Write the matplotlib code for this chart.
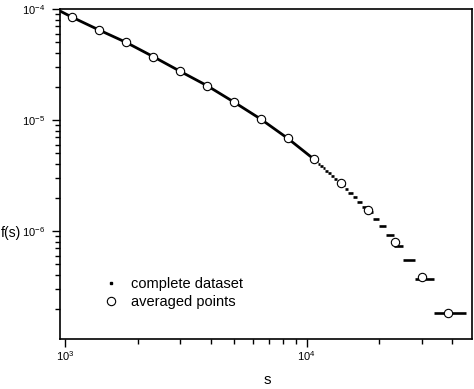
import matplotlib
matplotlib.use("Agg")
import matplotlib.pyplot as plt
from matplotlib.lines import Line2D
from matplotlib.ticker import LogLocator, NullFormatter

plt.rcParams['font.family'] = ['Liberation Sans', 'DejaVu Sans']
plt.rcParams['mathtext.fontset'] = 'custom'
plt.rcParams['mathtext.rm'] = 'Liberation Sans'
plt.rcParams['mathtext.it'] = 'Liberation Sans:italic'
plt.rcParams['mathtext.bf'] = 'Liberation Sans:bold'
plt.rcParams['axes.unicode_minus'] = False

# ---- data ----
# dense part of the complete dataset (appears as a continuous line)
dense_s = [953, 1072, 1383, 1788, 2319, 2991, 3868, 5003, 6451, 8343, 10720, 10860]
dense_f = [9.6e-5, 8.42e-5, 6.47e-5, 5.01e-5, 3.72e-5, 2.75e-5, 2.04e-5, 1.45e-5,
           1.02e-5, 6.84e-6, 4.43e-6, 4.32e-6]

# sparse tail of the complete dataset: plateaus (level, s from, s to)
plateau_f = [1.84e-7, 3.68e-7, 5.52e-7, 7.36e-7, 9.20e-7, 1.104e-6, 1.288e-6, 1.472e-6,
             1.656e-6, 1.84e-6, 2.024e-6, 2.208e-6, 2.392e-6, 2.576e-6, 2.76e-6, 2.944e-6,
             3.128e-6, 3.312e-6, 3.496e-6, 3.68e-6, 3.864e-6, 4.048e-6, 4.232e-6]
plateau_s0 = [33490, 28080, 25010, 22920, 21200, 19860, 18790, 17880, 16960, 16170, 15480,
              14880, 14350, 13870, 13410, 12990, 12610, 12260, 11940, 11630, 11360, 11100, 10860]
plateau_s1 = [45400, 33490, 28080, 25010, 22920, 21200, 19860, 18790, 17880, 16960, 16170,
              15480, 14880, 14350, 13870, 13410, 12990, 12610, 12260, 11940, 11630, 11360, 11100]

# averaged points
avg_s = [1072, 1383, 1788, 2319, 2991, 3868, 5003, 6451, 8343, 10720, 13830, 17980,
         23200, 29910, 38530]
avg_f = [8.42e-5, 6.47e-5, 5.01e-5, 3.72e-5, 2.75e-5, 2.04e-5, 1.45e-5, 1.02e-5,
         6.84e-6, 4.43e-6, 2.69e-6, 1.545e-6, 8.02e-7, 3.83e-7, 1.84e-7]

labels = ["complete dataset", "averaged points"]

# ---- figure ----
fig = plt.figure(figsize=(4.74, 3.89), dpi=100)
ax = fig.add_axes([60/474, 50/389, 412/474, 330/389])

ax.plot(dense_s, dense_f, color='k', lw=2.0, solid_capstyle='butt', zorder=2)
ax.hlines(plateau_f, plateau_s0, plateau_s1, colors='k', lw=1.9, zorder=2)
ax.plot(avg_s, avg_f, 'o', ls='none', mfc='white', mec='k', ms=6, mew=0.8, zorder=3)

ax.set_xscale('log')
ax.set_yscale('log')
ax.set_xlim(953.6, 48300)
ax.set_ylim(1.064e-7, 1e-4)

for sp in ax.spines.values():
    sp.set_linewidth(1.2)

ax.xaxis.set_major_locator(LogLocator(base=10))
ax.yaxis.set_major_locator(LogLocator(base=10))
ax.xaxis.set_minor_locator(LogLocator(base=10, subs=range(2, 10)))
ax.yaxis.set_minor_locator(LogLocator(base=10, subs=range(2, 10)))
ax.xaxis.set_minor_formatter(NullFormatter())
ax.yaxis.set_minor_formatter(NullFormatter())
ax.tick_params(which='major', direction='out', length=6, width=1.0, labelsize=8)
ax.tick_params(which='minor', direction='out', length=3.5, width=1.0)
ax.tick_params(axis='x', which='major', pad=1)
ax.tick_params(axis='y', which='major', pad=4.5)

ax.set_xlabel('s', fontsize=11, va='center')
ax.xaxis.set_label_coords(0.502, -0.124)
ax.set_ylabel('f(s)', fontsize=10, rotation=0, va='center', ha='left')
ax.yaxis.set_label_coords(-0.143, 0.321)

h1 = Line2D([], [], marker='s', ms=2, color='k', ls='none')
h2 = Line2D([], [], marker='o', ms=6, mfc='white', mec='k', mew=0.8, ls='none')
ax.legend([h1, h2], labels, loc='center left', bbox_to_anchor=(0.1068, 0.1394),
          frameon=False, fontsize=10.5, handlelength=1.0, handletextpad=0.85,
          borderpad=0, borderaxespad=0, labelspacing=0.25)

fig.savefig('out.png', dpi=100)
